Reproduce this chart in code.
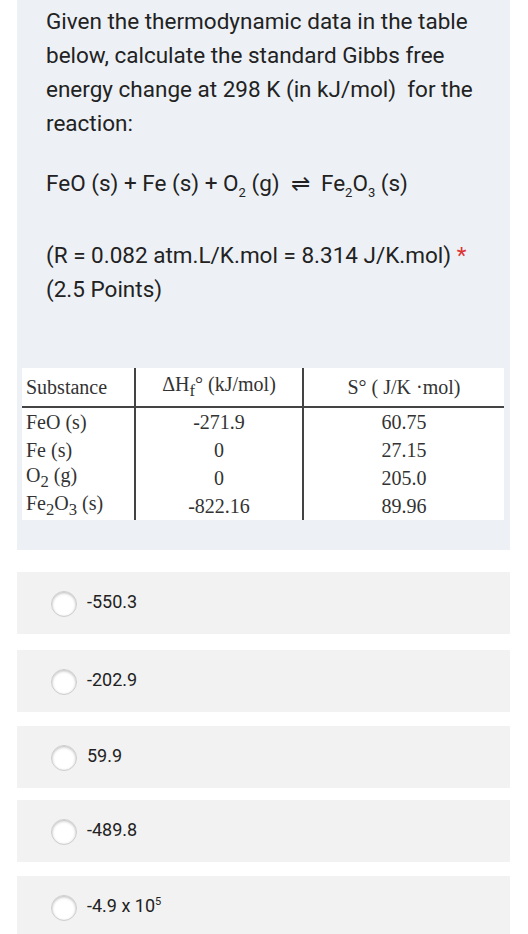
<!DOCTYPE html>
<html>
<head>
<meta charset="utf-8">
<script src="https://cdn.jsdelivr.net/npm/chart.js@4"></script>
<style>
  body { margin:0; width:528px; height:934px; background:#fff; font-family:Roboto, "Noto Sans", sans-serif; color:#222; overflow:hidden; position:relative; }
  .panel { position:absolute; left:17px; top:0; width:493px; height:550px; background:#edf1f6; }
  .q { position:absolute; left:46px; top:4px; width:430px; font-size:22.5px; line-height:34px; }
  .box { position:absolute; left:17px; width:493px; background:#f2f2f2; }
  .radio { position:absolute; left:34px; top:19px; width:24px; height:24px; border-radius:50%; background:#fff; border:1px solid #ccc; box-shadow:inset 0 1px 3px #bbb; }
  .opt { position:absolute; left:70px; top:19px; font-size:18px; }
  table { position:absolute; left:22px; top:368px; border-collapse:collapse; font-family:"Liberation Serif", "DejaVu Serif", serif; font-size:20px; color:#333; background:#fff; }
  td, th { padding:0 4px; font-weight:normal; height:28px; }
  th { border-bottom:2px solid #444; height:38px; }
  .c1 { border-right:2px solid #444; }
</style>
</head>
<body>
<div class="panel"></div>
<div class="q">Given the thermodynamic data in the table below, calculate the standard Gibbs free energy change at 298 K (in kJ/mol)&nbsp; for the reaction:<br>
<div style="margin-top:26px">FeO (s) + Fe (s) + O<sub style="font-size:13px">2</sub> (g) &nbsp;⇌&nbsp; Fe<sub style="font-size:13px">2</sub>O<sub style="font-size:13px">3</sub> (s)</div>
<div style="margin-top:28px">(R = 0.082 atm.L/K.mol = 8.314 J/K.mol) <span style="color:#d33">*</span><br>(2.5 Points)</div>
</div>
<table id="tbl"></table>
<div id="opts"></div>
<script>
const headers = ['Substance', 'ΔH<sub>f</sub>° (kJ/mol)', 'S° ( J/K ·mol)'];
const substances = ['FeO (s)', 'Fe (s)', 'O<sub>2</sub> (g)', 'Fe<sub>2</sub>O<sub>3</sub> (s)'];
const deltaH = ['-271.9', '0', '0', '-822.16'];
const entropy = ['60.75', '27.15', '205.0', '89.96'];
const options = ['-550.3', '-202.9', '59.9', '-489.8', '-4.9 x 10<sup style="font-size:11px">5</sup>'];
const optTops = [572, 650, 726, 800, 876];

const tbl = document.getElementById('tbl');
let html = '<tr><th class="c1" style="text-align:left;width:104px">' + headers[0] + '</th><th class="c1" style="width:158px">' + headers[1] + '</th><th style="width:192px">' + headers[2] + '</th></tr>';
substances.forEach((s, i) => {
  html += '<tr><td class="c1">' + s + '</td><td class="c1" style="text-align:center">' + deltaH[i] + '</td><td style="text-align:center">' + entropy[i] + '</td></tr>';
});
tbl.innerHTML = html;

const opts = document.getElementById('opts');
options.forEach((o, i) => {
  const d = document.createElement('div');
  d.className = 'box';
  d.style.top = optTops[i] + 'px';
  d.style.height = '62px';
  d.innerHTML = '<div class="radio"></div><div class="opt">' + o + '</div>';
  opts.appendChild(d);
});
</script>
</body>
</html>
